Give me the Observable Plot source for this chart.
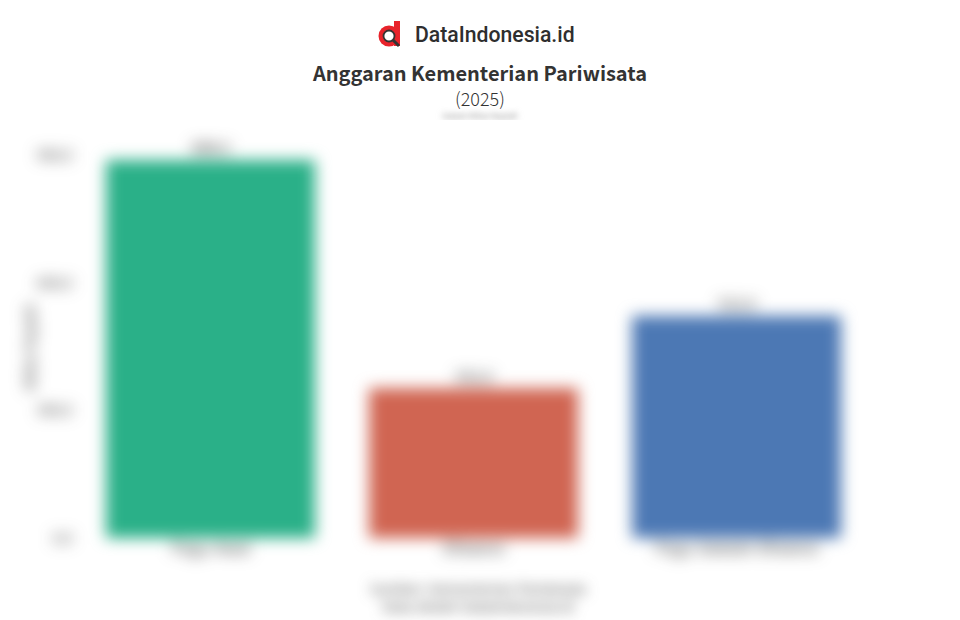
<!DOCTYPE html>
<html><head><meta charset="utf-8">
<script src="https://cdn.jsdelivr.net/npm/d3@7"></script>
<script src="https://cdn.jsdelivr.net/npm/@observablehq/plot@0.6"></script>
<style>
html,body{margin:0;padding:0;background:#fff;width:960px;height:620px;overflow:hidden}
#head{position:relative;height:120px;overflow:hidden;color:#333;text-align:center;font-family:"Noto Sans CJK SC","Noto Sans",sans-serif}
#brand{position:absolute;left:415px;top:20px;font:500 21.2px/30px Roboto,sans-serif;color:#2e2e2e;white-space:nowrap}
#logo{position:absolute;left:377px;top:20px}
#title{position:absolute;left:0;width:960px;top:58px;font-weight:700;font-size:20px;line-height:30px}
#sub{position:absolute;left:0;width:960px;top:88px;font-weight:300;font-size:18px;line-height:21px;color:#333}
#unit{position:absolute;left:0;width:960px;top:111px;font-size:8px;line-height:9px;color:#888;filter:blur(3px)}
#chart svg{display:block;filter:blur(7.5px);overflow:visible}
#note{filter:blur(7px);text-align:center;width:960px;margin-left:-2px;font:14px/18px "Noto Sans",sans-serif;color:#444;padding-top:5px}
</style></head><body>
<div id="head">
<svg id="logo" width="26" height="30" viewBox="0 0 26 30"><circle cx="12" cy="16" r="10.5" fill="#e8232b"/><rect x="17" y="1" width="6" height="25" fill="#e8232b"/><circle cx="12" cy="16" r="5.5" fill="#fff" stroke="#333" stroke-width="1.8"/><path d="M16 20l6 6" stroke="#333" stroke-width="3"/></svg>
<div id="brand">DataIndonesia.id</div>
<div id="title">Anggaran Kementerian Pariwisata</div>
<div id="sub">(2025)</div>
<div id="unit">Dalam Miliar Rupiah</div>
</div>
<div id="chart"></div>
<div id="note">Sumber: Kementerian Pariwisata<br>Data diolah DataIndonesia.id</div>
<script>
const categories = ["Pagu Awal", "Efisiensi", "Pagu Setelah Efisiensi"];
const values = [888, 352, 522];
const colors = ["#2ab088", "#d06552", "#4c78b4"];
const yTicks = [0, 300, 600, 900];
const yLabel = "Miliar Rupiah";
const rows = categories.map((c, i) => ({category: c, value: values[i]}));

const plot = Plot.plot({
  width: 960, height: 455,
  marginLeft: 78, marginRight: 91, marginTop: 35, marginBottom: 37,
  style: {fontFamily: '"Noto Sans",sans-serif', fontSize: "14px", color: "#333", background: "transparent"},
  x: {domain: categories, paddingInner: 0.207, paddingOuter: 0.1025, label: null},
  y: {domain: [0, 900], label: null},
  color: {domain: categories, range: colors},
  marks: [
    Plot.barY(rows, {x: "category", y: "value", fill: "category"}),
    Plot.text(rows, {x: "category", y: "value", text: d => d.value.toFixed(1).replace(".", ","), dy: -12, fill: "#222", fontSize: 15}),
    Plot.axisY({ticks: yTicks, tickFormat: d => d.toFixed(1).replace(".", ","), tickSize: 0, tickPadding: 6, label: yLabel, labelAnchor: "center", labelArrow: "none", labelOffset: 53, fill: "#333", fontSize: 14}),
    Plot.axisX({tickSize: 0, tickPadding: 4, label: null, fill: "#333", fontSize: 16})
  ]
});
document.getElementById("chart").appendChild(plot);
</script>
</body></html>
